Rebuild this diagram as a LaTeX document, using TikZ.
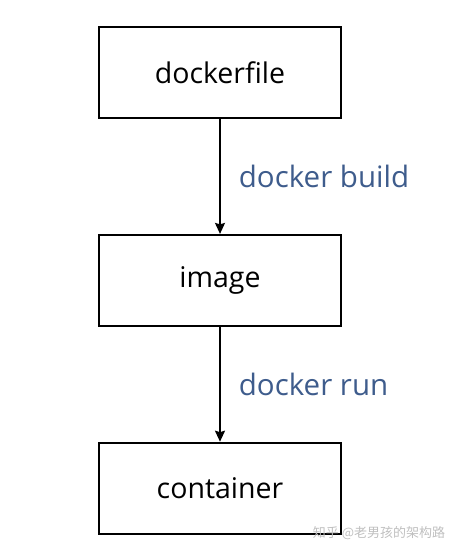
\documentclass[tikz,border=0pt]{standalone}
\usepackage{fontspec}
\setmainfont{Open Sans}
\newfontfamily\cjk{Noto Sans CJK SC}
\usetikzlibrary{positioning,arrows.meta}
\definecolor{cmdblue}{RGB}{62,92,140}
\begin{document}
\begin{tikzpicture}[x=1pt,y=-1pt,->,>={Stealth[length=11pt,width=10pt,inset=1.5pt]},line width=1.8pt,
		node distance=115pt,
		box node/.style={rectangle,draw,line width=1.8pt,minimum width=242pt,minimum height=91pt,font=\fontsize{28.5}{32}\selectfont},
		cmd label/.style={text=cmdblue,inner sep=0pt,anchor=west,font=\fontsize{29.5}{33}\selectfont}]
		\useasboundingbox (0,0) rectangle (458,554);
		\node[box node] (dfile) at (220,72.5) {dockerfile};
		\node[box node] (img) [below=of dfile] {image};
		\node[box node] (cont) [below=of img] {container};
		\path[->]
		(dfile) edge node [cmd label,right=18pt] {docker build} (img)
		(img) edge node [cmd label,right=18pt] {docker run} (cont);
		\node[text=black!25,font=\cjk\fontsize{13}{15}\selectfont] (wmark) at (379,533) {知乎 @老男孩的架构路};
		\end{tikzpicture}
\end{document}
